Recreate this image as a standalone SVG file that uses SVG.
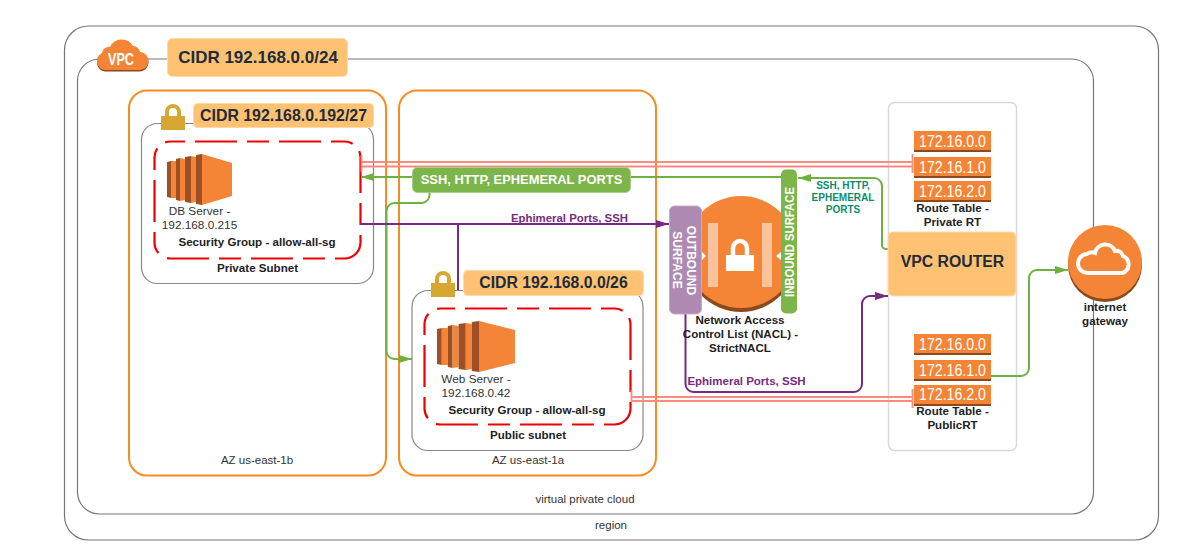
<svg xmlns="http://www.w3.org/2000/svg" width="1200" height="549" viewBox="0 0 1200 549">
<style>
text{font-family:"Liberation Sans",Arial,sans-serif;text-anchor:middle;fill:#222}
.b{font-weight:700;font-size:11.6px}
.n{font-size:11.8px;fill:#333}
.big{font-weight:700;font-size:17px;fill:#222b3a}
.cap{font-size:11.5px;fill:#333}
.lab{fill:#ffc273;stroke:#ffd9a6;stroke-width:1}
.az{fill:none;stroke:#f68c1e;stroke-width:2}
.sub{fill:#fff;stroke:#888;stroke-width:1.2}
.sg{fill:none;stroke:#ee0000;stroke-width:2.2;stroke-dasharray:42 10 22 10;stroke-dashoffset:59.5}
.ip{font-size:16.5px;fill:#fff}
.gr{fill:none;stroke:#6fb03f;stroke-width:2}
.pu{fill:none;stroke:#762b80;stroke-width:2}
.pk{fill:none;stroke:#ff8a7d;stroke-width:1.8}
.sf{font-size:12px;font-weight:700;fill:#fff}
.gl{font-size:10px;font-weight:700;fill:#0d8c6d}
</style>
<defs>
<marker id="ag" markerUnits="userSpaceOnUse" markerWidth="14" markerHeight="8" refX="13" refY="4" orient="auto"><path d="M0 0L13 4L0 8z" fill="#6fb03f"/></marker>
<marker id="ap" markerUnits="userSpaceOnUse" markerWidth="14" markerHeight="8" refX="13" refY="4" orient="auto"><path d="M0 0L13 4L0 8z" fill="#762b80"/></marker>
<g id="ec2">
<path d="M0 8L4 7V44L0 43z" fill="#9d5025"/><path d="M4 7L9 7V44H4z" fill="#f58536"/>
<path d="M9 5L13 4V47L9 46z" fill="#9d5025"/><path d="M13 4L18 5V46L13 47z" fill="#f58536"/>
<path d="M18 3L24 2V49L18 48z" fill="#9d5025"/><path d="M24 2L29 3V48L24 49z" fill="#f58536"/>
<path d="M29 1L35 0V51L29 50z" fill="#9d5025"/><path d="M35 0L65 9V42L35 51z" fill="#f58536"/>
</g>
<g id="lock">
<path d="M6 14V9a6 6 0 0 1 12 0V14" fill="none" stroke="#d7a733" stroke-width="4"/>
<rect x="0" y="13" width="24" height="14" fill="#d7a733"/>
</g>
<g id="ipb"><rect width="77" height="21" fill="#f58536"/><rect y="19" width="77" height="2" fill="#8c4a1c"/></g>
</defs>

<g id="region"><rect x="64.500" y="26" width="1094" height="514" rx="24" fill="#fff" stroke="#777" stroke-width="1.2"/><text class="cap" x="611" y="529">region</text></g>
<g id="vpc"><rect x="77.500" y="59" width="1016" height="455" rx="22" fill="#fff" stroke="#777" stroke-width="1.2"/><text class="cap" x="585" y="503">virtual private cloud</text>
<path d="M105 71.500a9 9 0 0 1-3-17a7 7 0 0 1 8-6a13 13 0 0 1 23-1a7 7 0 0 1 7 6a9 9 0 0 1-1 18z" fill="#8c4a1c"/>
<path d="M105 70a9 9 0 0 1-3-17a7 7 0 0 1 8-6a13 13 0 0 1 23-1a7 7 0 0 1 7 6a9 9 0 0 1-1 18z" fill="#f58536"/>
<text x="121" y="65" style="font-size:16.500px;font-weight:700;fill:#fff" textLength="26" lengthAdjust="spacingAndGlyphs">VPC</text>
<rect class="lab" x="167.500" y="38.500" width="180" height="38" rx="5"/><text class="big" x="258" y="62.500">CIDR 192.168.0.0/24</text></g>
<g id="az-b"><rect class="az" x="129" y="90.500" width="257" height="385" rx="18"/><text class="cap" x="257" y="464">AZ us-east-1b</text></g>
<g id="az-a"><rect class="az" x="399" y="90.500" width="257" height="385" rx="18"/><text class="cap" x="528" y="464">AZ us-east-1a</text></g>

<g id="route-box"><rect x="888.500" y="102.500" width="128" height="348" rx="6" fill="#fff" stroke="#d9d9d9" stroke-width="1.500"/></g>

<g id="private-subnet"><rect class="sub" x="141.500" y="123.500" width="232" height="160" rx="16"/>
<use href="#lock" x="161" y="103"/>
<rect class="lab" x="193.500" y="103.500" width="180" height="24" rx="4"/><text class="big" x="283.500" y="120.500" style="font-size:15.900px">CIDR 192.168.0.192/27</text>
<text class="b" x="257.500" y="272">Private Subnet</text></g>
<g id="db-server"><rect class="sg" x="154.500" y="141.500" width="206" height="117" rx="16"/>
<use href="#ec2" x="167" y="154"/>
<text class="n" x="199.500" y="215">DB Server -</text><text class="n" x="199.500" y="229">192.168.0.215</text>
<text class="b" x="257" y="246">Security Group - allow-all-sg</text></g>

<g id="public-subnet"><rect class="sub" x="412" y="290.500" width="231" height="160" rx="16"/>
<use href="#lock" x="431" y="270"/>
<rect class="lab" x="463.500" y="270.500" width="180" height="25" rx="4"/><text class="big" x="553.500" y="287.500" style="font-size:15.800px">CIDR 192.168.0.0/26</text>
<text class="b" x="528" y="439">Public subnet</text></g>
<g id="web-server"><rect class="sg" x="424.500" y="308.500" width="206" height="116" rx="16"/>
<use href="#ec2" transform="translate(437,321) scale(1.2,1)"/>
<text class="n" x="476" y="383">Web Server -</text><text class="n" x="476" y="397">192.168.0.42</text>
<text class="b" x="527" y="414">Security Group - allow-all-sg</text></g>

<g id="connectors">
<path class="pk" d="M361 162H913M361 166.500H913M361.500 155V172M912.500 154V173"/>
<path class="pk" d="M632 397H913M632 401H913M631.500 390V402M912.500 389V408"/>
<path class="gr" d="M888 249H890H886a4 4 0 0 1-4-4V186a8 8 0 0 0-8-8H798" marker-end="url(#ag)"/>
<path class="gr" d="M782 177H361" marker-end="url(#ag)"/>
<path class="gr" d="M429.500 190V195a8 8 0 0 1-8 8H394.500a8 8 0 0 0-8 8V351a8 8 0 0 0 8 8H412" marker-end="url(#ag)"/>
<path class="pu" d="M360 224H669" marker-end="url(#ap)"/>
<path class="pu" d="M458 224V290"/>
<path class="pu" d="M685.500 314V384a8 8 0 0 0 8 8H854a8 8 0 0 0 8-8V304a8 8 0 0 1 8-8H888" marker-end="url(#ap)"/>
<path class="gr" d="M991 376H1021a8 8 0 0 0 8-8V278a8 8 0 0 1 8-8H1068" marker-end="url(#ag)"/>
</g>

<g id="rules"><rect x="412.500" y="167.500" width="218" height="25" rx="5" fill="#7cb54a" stroke="#a6cf86"/><text x="521.500" y="183.500" style="font-size:12.900px;font-weight:700;fill:#fff">SSH, HTTP, EPHEMERAL PORTS</text></g>
<text id="lbl-out" x="569.500" y="222" style="font-size:11.400px;font-weight:700;fill:#762b80">Ephimeral Ports, SSH</text>
<text id="lbl-in" x="746.500" y="385" style="font-size:11.500px;font-weight:700;fill:#762b80">Ephimeral Ports, SSH</text>
<g id="lbl-green"><text class="gl" x="843" y="189">SSH, HTTP,</text><text class="gl" x="843" y="201">EPHEMERAL</text><text class="gl" x="843" y="213">PORTS</text></g>

<g id="nacl">
<circle cx="741" cy="256" r="56" fill="#8c4a1c"/><circle cx="741" cy="252" r="56" fill="#f58536"/>
<rect x="708" y="223" width="10" height="64" fill="#fbc39b"/><rect x="762" y="223" width="10" height="64" fill="#fbc39b"/>
<path d="M733 257V248a7 7 0 0 1 14 0V257" fill="none" stroke="#fff" stroke-width="4.500"/><rect x="726" y="255" width="28" height="16" fill="#fff"/>
<path d="M702 252l4 4l-4 4zM781 252l-5 4l5 4z" fill="#fff"/>
<rect x="669.500" y="206" width="32" height="108" rx="5" fill="#ae8ab2" stroke="#c7a9cb"/>
<text class="sf" transform="translate(687,260.500) rotate(90)">OUTBOUND</text>
<text class="sf" transform="translate(673,260) rotate(90)">SURFACE</text>
<rect x="781" y="169.500" width="16" height="144" rx="5" fill="#7cb54a"/>
<text class="sf" transform="translate(793.500,242) rotate(-90)" textLength="110" lengthAdjust="spacingAndGlyphs">INBOUND SURFACE</text>
<text class="b" x="740" y="324">Network Access</text><text class="b" x="740.500" y="338">Control List (NACL) -</text><text class="b" x="740" y="352">StrictNACL</text>
</g>

<g id="private-rt">
<use href="#ipb" x="914" y="131"/><text class="ip" x="952.500" y="147" textLength="67" lengthAdjust="spacingAndGlyphs">172.16.0.0</text>
<use href="#ipb" x="914" y="157"/><text class="ip" x="952.500" y="172.500" textLength="67" lengthAdjust="spacingAndGlyphs">172.16.1.0</text>
<use href="#ipb" x="914" y="181"/><text class="ip" x="952.500" y="197" textLength="67" lengthAdjust="spacingAndGlyphs">172.16.2.0</text>
<text class="b" x="952.500" y="212">Route Table -</text><text class="b" x="952.500" y="226">Private RT</text></g>
<g id="vpc-router"><rect class="lab" x="888" y="232" width="128" height="64" rx="5"/><text class="big" x="952.500" y="267" style="font-size:15.800px">VPC ROUTER</text></g>
<g id="public-rt">
<use href="#ipb" x="914" y="334"/><text class="ip" x="952.500" y="350" textLength="67" lengthAdjust="spacingAndGlyphs">172.16.0.0</text>
<use href="#ipb" x="914" y="360"/><text class="ip" x="952.500" y="375.500" textLength="67" lengthAdjust="spacingAndGlyphs">172.16.1.0</text>
<use href="#ipb" x="914" y="385"/><text class="ip" x="952.500" y="400" textLength="67" lengthAdjust="spacingAndGlyphs">172.16.2.0</text>
<text class="b" x="952.500" y="415">Route Table -</text><text class="b" x="952.500" y="429">PublicRT</text></g>
<g id="igw"><circle cx="1105" cy="265" r="37" fill="#8c4a1c"/><circle cx="1105" cy="262" r="37" fill="#f58536"/>
<path d="M1088 273a9.500 9.500 0 0 1 -1-19a8 8 0 0 1 8-1a10.500 10.500 0 0 1 20-2a7 7 0 0 1 8 5a9 9 0 0 1 -1 17z" fill="none" stroke="#fff" stroke-width="4"/>
<text class="b" x="1105" y="311">internet</text><text class="b" x="1105" y="325">gateway</text></g>
</svg>
